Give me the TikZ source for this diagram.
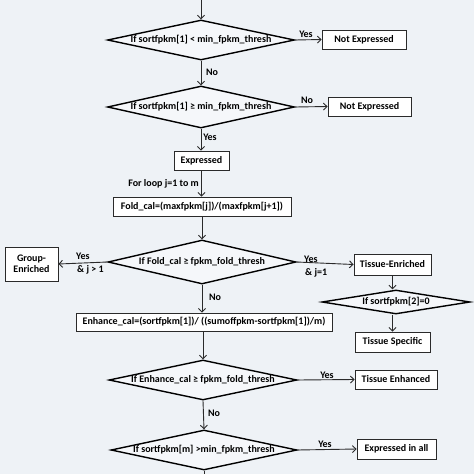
\documentclass[tikz,border=0pt]{standalone}
\usepackage{fontspec}
\setmainfont{Carlito}
\usetikzlibrary{shapes.geometric,arrows.meta}
\definecolor{bgc}{HTML}{EEF2F6}
\definecolor{ln}{HTML}{2A2A2A}
\tikzset{
  box/.style={draw=ln, line width=0.9pt, fill=white, inner sep=0pt, font=\bfseries\fontsize{10}{11}\selectfont},
  dia/.style={draw=black, line width=1.4pt, fill=bgc!60!white, diamond, inner sep=0pt, aspect=4.5, font=\bfseries\fontsize{10}{11}\selectfont},
  lbl/.style={inner sep=0pt, font=\bfseries\fontsize{10}{11}\selectfont, align=center},
  arr/.style={draw=ln, line width=0.9pt, -{Straight Barb[length=3.5pt,width=7pt]}},
}
\begin{document}
\begin{tikzpicture}[x=1pt,y=-1pt]
\fill[bgc] (0,0) rectangle (474,474);
\useasboundingbox (0,0) rectangle (474,474);
\coordinate (top) at (201,0);
\coordinate (bot) at (204,474);
\node[dia, minimum width=187pt, minimum height=40pt] (d1) at (201,40) {\makebox[0pt]{If sortfpkm[1] < min\_fpkm\_thresh}};
\node[box, minimum width=84pt, minimum height=19pt] (ne1) at (364,39.5) {Not Expressed};
\node[dia, minimum width=187pt, minimum height=42pt] (d2) at (201,107) {\makebox[0pt]{If sortfpkm[1] ≥ min\_fpkm\_thresh}};
\node[box, minimum width=83pt, minimum height=19pt] (ne2) at (369.5,106.5) {Not Expressed};
\node[box, minimum width=55pt, minimum height=19pt] (ex) at (201.5,160.5) {Expressed};
\node[box, minimum width=178pt, minimum height=19pt] (fold) at (202,206.5) {Fold\_cal=(maxfpkm[j])/(maxfpkm[j+1])};
\node[dia, minimum width=188pt, minimum height=44pt] (d3) at (202,262) {\makebox[0pt]{If Fold\_cal ≥ fpkm\_fold\_thresh}};
\node[box, minimum width=53pt, minimum height=34pt, align=center] (grp) at (31.5,264) {Group-\\Enriched};
\node[box, minimum width=77pt, minimum height=21pt] (te) at (392.5,264.5) {Tissue-Enriched};
\node[dia, minimum width=148pt, minimum height=24pt] (d4) at (396,302) {\makebox[0pt]{If sortfpkm[2]=0}};
\node[box, minimum width=75pt, minimum height=20pt] (ts) at (392.5,342) {Tissue Specific};
\node[box, minimum width=256pt, minimum height=18pt] (enh) at (204,322) {Enhance\_cal=(sortfpkm[1])/ ((sumoffpkm-sortfpkm[1])/m)};
\node[dia, minimum width=188pt, minimum height=40pt] (d5) at (203,380) {\makebox[0pt]{If Enhance\_cal ≥ fpkm\_fold\_thresh}};
\node[box, minimum width=82pt, minimum height=19pt] (tenh) at (396,379.5) {Tissue Enhanced};
\node[dia, minimum width=186pt, minimum height=40pt] (d6) at (204,450) {\makebox[0pt]{If sortfpkm[m] >min\_fpkm\_thresh}};
\node[box, minimum width=79pt, minimum height=20pt] (eall) at (396.5,449) {Expressed in all};

\draw[arr] (top) -- (d1.north);
\draw[arr] (d1.east) -- (ne1.west);
\draw[arr] (d1.south) -- (d2.north);
\draw[arr] (d2.east) -- (ne2.west);
\draw[arr] (d2.south) -- (ex.north -| d2.south);
\draw[arr] (ex.south) -- (fold.north -| ex.south);
\draw[arr] (fold.south) -- (d3.north);
\draw[arr] (d3.west) -- (grp.east);
\draw[arr] (d3.east) -- (te.west);
\draw[arr] (te.south) -- (d4.north -| te.south);
\draw[arr] (d4.south -| ts.north) -- (ts.north);
\draw[arr] (d3.south) -- (enh.north -| d3.south);
\draw[arr] (enh.south -| d5.north) -- (d5.north);
\draw[arr] (d5.east) -- (tenh.west);
\draw[arr] (d5.south) -- (d6.north);
\draw[arr] (d6.east) -- (eall.west);
\draw[draw=ln, line width=0.9pt] (d6.south) -- (bot);

\node[lbl] (l1) at (306,34) {Yes};
\node[lbl] (l2) at (212,72) {No};
\node[lbl] (l3) at (307,100) {No};
\node[lbl] (l4) at (210,137) {Yes};
\node[lbl, anchor=east] (l5) at (199,184) {For loop j=1 to m};
\node[lbl, anchor=west] (l6) at (76,256.5) {Yes};
\node[lbl, anchor=west] (l7) at (77,269.5) {\& j > 1};
\node[lbl, anchor=west] (l8) at (304,259) {Yes};
\node[lbl, anchor=west] (l9) at (305,272.5) {\& j=1};
\node[lbl] (l10) at (215,297) {No};
\node[lbl] (l11) at (327,375) {Yes};
\node[lbl] (l12) at (214,413) {No};
\node[lbl] (l13) at (325,444) {Yes};
\end{tikzpicture}
\end{document}
